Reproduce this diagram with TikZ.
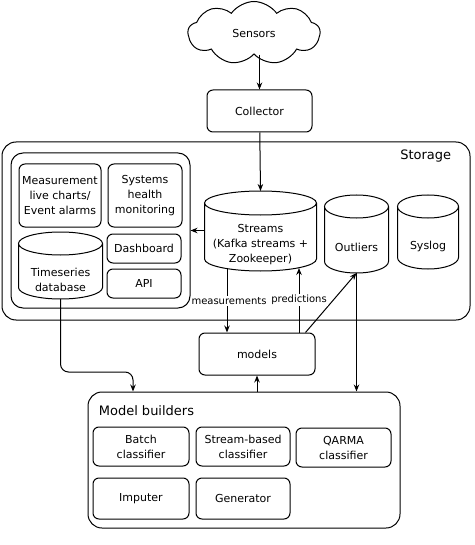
\documentclass[tikz,border=0pt]{standalone}
\usepackage{fontspec}
\setmainfont{DejaVu Sans}
\usetikzlibrary{positioning,calc,shapes.geometric,shapes.symbols,arrows.meta}
\tikzset{every picture/.style={line width=1pt}}
% cylinder outline round a named node: name, ellipse radius
\newcommand\drawstore[2]{\draw let \p1=(#1.north west), \p2=(#1.south east), \n1={(\x2-\x1)/2} in
    (\x1,\y1-#2pt) -- (\x1,\y2+#2pt) arc[start angle=180, end angle=360, x radius=\n1, y radius=#2pt]
    -- (\x2,\y1-#2pt) arc[start angle=0, end angle=360, x radius=\n1, y radius=#2pt];}

\begin{document}
\begin{tikzpicture}[x=1pt, y=-1pt, >={Stealth[length=7pt,width=5.5pt]},
    font=\fontsize{11}{15}\selectfont,
    box/.style={draw, rectangle, rounded corners=6pt, align=center, inner sep=1pt},
    store/.style={rectangle, inner sep=0pt, anchor=north},
    group/.style={draw, rectangle, rounded corners=14pt},
    tag/.style={fill=white, inner sep=1pt, font=\fontsize{10}{12}\selectfont}]
\useasboundingbox (0,0) rectangle (474,545);

    % Sensors and collector
\node[draw, cloud, cloud puffs=9, cloud puff arc=110, aspect=2.1, minimum width=132pt, minimum height=63pt] (sensors) at (254,33) {Sensors};
\node[box, minimum width=105pt, minimum height=42pt] (collector) at (259.5,111) {Collector};

    % Storage
\node[group, minimum width=468pt, minimum height=178pt] (storage) at (236,231) {};
\node[anchor=east, font=\fontsize{13}{15}\selectfont] (storagelbl) at (455,156) {Storage};
\node[group, rounded corners=12pt, minimum width=179pt, minimum height=155pt] (dashgrp) at (100.5,230.5) {};
\node[box, minimum width=82pt, minimum height=63pt] (charts) at (60,195.5) {Measurement\\live charts/\\Event alarms};
\node[box, minimum width=74pt, minimum height=63pt, right=6pt of charts] (health) {Systems\\health\\monitoring};
\node[store, minimum width=83pt, minimum height=66pt] (tsdb) at (60.5,232) {};
\node[align=center] (tsdbtext) at (60.5,279.5) {Timeseries\\database};
\node[box, minimum width=74pt, minimum height=29pt] (dash) at (144,248.5) {Dashboard};
\node[box, minimum width=74pt, minimum height=29pt, below=5pt of dash] (api) {API};
\node[store, minimum width=111pt, minimum height=79pt] (streams) at (260.5,191) {};
\node[align=center] (streamstext) at (260.5,245) {Streams\\(Kafka streams +\\Zookeeper)};
\node[store, minimum width=63pt, minimum height=77pt] (outliers) at (356.5,195) {};
\node (outlierstext) at (356.5,247) {Outliers};
\node[store, minimum width=60pt, minimum height=73pt] (syslog) at (428,195) {};
\node (syslogtext) at (428,246) {Syslog};
\drawstore{tsdb}{11.5}
\drawstore{streams}{12}
\drawstore{outliers}{11.5}
\drawstore{syslog}{11.5}

    % Models
\node[box, minimum width=116pt, minimum height=42pt] (models) at (257,354) {models};

    % Model builders
\node[group, minimum width=312pt, minimum height=136pt] (builders) at (244,460) {};
\node[anchor=west, font=\fontsize{13}{15}\selectfont] (builderslbl) at (95,411) {Model builders};
\node[box, minimum width=96pt, minimum height=39pt] (batch) at (141,446.5) {Batch\\classifier};
\node[box, minimum width=94pt, minimum height=39pt, right=6pt of batch] (sbc) {Stream-based\\classifier};
\node[box, minimum width=95pt, minimum height=39pt, right=5pt of sbc, yshift=-1pt] (qarma) {QARMA\\classifier};
\node[box, minimum width=96pt, minimum height=41pt, below=11pt of batch] (imputer) {Imputer};
\node[box, minimum width=94pt, minimum height=41pt, below=11pt of sbc] (generator) {Generator};

    % Connections
\coordinate (meas) at (227,0);
\coordinate (pred) at (299,0);
\coordinate (bend) at (133,372);
\draw[->] (sensors.south -| collector) -- (collector);
\draw[->] (collector) -- (streams.north);
\draw[->] (streams.west |- dashgrp) -- (dashgrp.east);
\draw[->] ([yshift=2pt]streams.south -| meas) -- (models.north -| meas);
\draw[->] (models.north -| pred) -- ([yshift=3pt]streams.south -| pred);
\draw[->] ([xshift=-10pt]models.north east) -- (outliers.south);
\draw[->] (outliers.south) -- (builders.north -| outliers.south);
\draw[->, rounded corners=8pt] (tsdb.south) |- (bend) -- (bend |- builders.north);
\draw[->] (builders.north -| models.south) -- (models.south);

    % Labels
\node[tag] (measlbl) at (229,301) {measurements};
\node[tag] (predlbl) at (299,300) {predictions};
\end{tikzpicture}
\end{document}
